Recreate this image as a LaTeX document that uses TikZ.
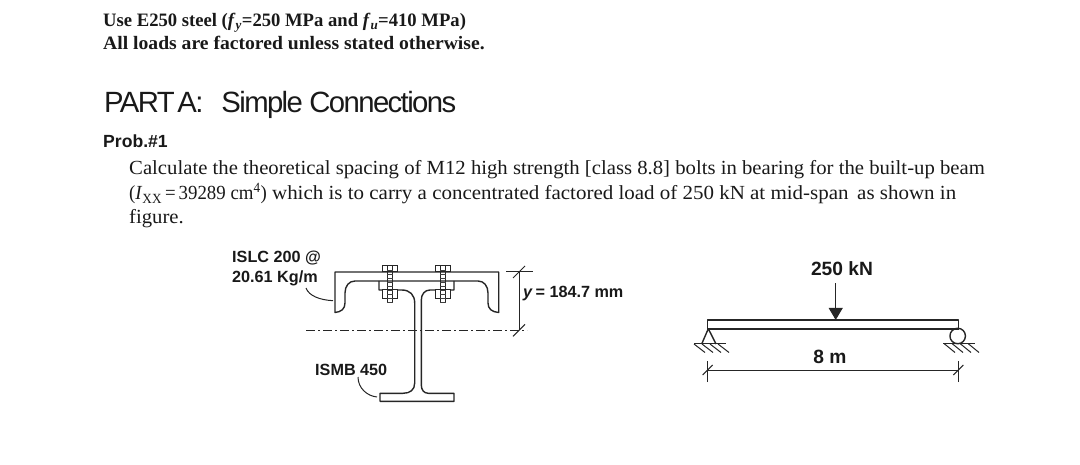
\documentclass[tikz,border=0pt]{standalone}
\usepackage{fontspec}
\usepackage{graphicx}
\setmainfont[FakeStretch=1.036]{Liberation Serif}
\setsansfont{Liberation Sans}
\newfontfamily\partfont[LetterSpace=-5.5]{Liberation Sans}
\usetikzlibrary{arrows.meta}
\tikzset{>/.tip={Triangle[scale=1.9]},
  txt/.style={inner sep=0pt, anchor=base west, text=black!90},
  lab/.style={inner sep=0pt, font=\sffamily\bfseries\fontsize{16.2}{18}\selectfont, text=black!90},
  biglab/.style={lab, font=\sffamily\bfseries\fontsize{19.2}{22}\selectfont},
  body/.style={txt, font=\fontsize{20}{24}\selectfont},
  head/.style={txt, font=\bfseries\fontsize{18.95}{22}\selectfont},
  steel/.style={line width=1.4pt, black!85, line join=round},
  thin/.style={line width=1pt, black!85}}

\begin{document}
\begin{tikzpicture}[x=1pt,y=-1pt]
\useasboundingbox (0,0) rectangle (1080,465);

\node[head] (use) at (103,27) {\scalebox{0.949}[1]{Use E250 steel (\textit{f}\textsubscript{\itshape y}=250 MPa and \textit{f}\textsubscript{\itshape u}=410 MPa)}};
\node[head] (all) at (103,50) {All loads are factored unless stated otherwise.};
\node[txt, font=\partfont\fontsize{29.3}{34}\selectfont] (part) at (104,113) {PART\hspace{-4pt} A:\hspace{18pt}Simple Connections};
\node[txt, font=\sffamily\bfseries\fontsize{17.6}{20}\selectfont] (prob) at (103,148) {Prob.\#1};
\node[body] (l1) at (129,175) {Calculate the theoretical spacing of M12 high strength [class 8.8] bolts in bearing for the built-up beam};
\node[body] (l2) at (129,200) {\scalebox{0.91}[1]{(\textit{I}\textsubscript{XX}\,=\,39289 cm\textsuperscript{4})} \scalebox{1.012}[1]{which is to carry a concentrated factored load of 250 kN at mid-span\, as shown in}};
\node[body] (l3) at (129,224) {figure.};

% section
\draw[steel] (335,272) -- (498.7,272) -- (498.7,312.5) .. controls (492,312) and (488,309) .. (488,303)
  -- (488,293) .. controls (488,286) and (484,281) .. (478,281) -- (355,281)
  .. controls (349,281) and (345,286) .. (345,293) -- (345,303) .. controls (345,309) and (341,312) .. (335,312.5) -- cycle;
\draw[steel] (379,281) -- (379,290) -- (401.7,290) .. controls (410,290) and (414.7,295) .. (414.7,303)
  -- (414.7,383) .. controls (414.7,390) and (410,393.3) .. (403,393.3) -- (380,393.3)
  -- (380,401.3) -- (454,401.3) -- (454,393.3) -- (428.3,393.3)
  .. controls (424,393.3) and (421.3,390) .. (421.3,385) -- (421.3,300)
  .. controls (421.3,294) and (425,290) .. (430,290) -- (454,290) -- (454,281);

% bolts
\foreach \bx in {390,443}
{
  \draw[thin, fill=white] (\bx-7.5,266) rectangle (\bx+7.5,272);
  \draw[thin, fill=white] (\bx-7.5,290) rectangle (\bx+7.5,298.3);
  \draw[thin] (\bx-2.8,266) -- (\bx-2.8,302.7) -- (\bx+2.8,302.7) -- (\bx+2.8,266);
  \foreach \ty in {270,274,...,302}
  {
    \draw[line width=0.5pt, black!75] (\bx-2.8,\ty) -- (\bx+2.8,\ty);
  }
}

% centre line and y dimension
\coordinate (axisL) at (306,330.3);
\coordinate (axisR) at (527,330.3);
\coordinate (dimT) at (519,272);
\coordinate (dimB) at (519,330.3);
\draw[thin, dash pattern=on 9pt off 3pt on 2pt off 3pt] (axisL) -- (axisR);
\draw[thin] (506,272) -- (533,272);
\draw[thin] (dimT) -- (dimB);
\foreach \i in {dimT,dimB}
{
  \draw[thin] ([shift={(-6,6)}]\i) -- ([shift={(6,-6)}]\i);
}
\node[lab, anchor=base west] (ydim) at (523,298) {\textit{y}\,= 184.7 mm};

% section labels
\node[lab, anchor=base west] (islc) at (232,263) {ISLC 200 @};
\node[lab, anchor=base west] (kgm) at (232,283) {20.61 Kg/m};
\node[lab, anchor=base west] (ismb) at (315,375) {ISMB 450};
\coordinate (islcA) at (306,288);
\coordinate (islcB) at (333,300.7);
\coordinate (ismbA) at (358,377);
\coordinate (ismbB) at (377,397);
\draw[thin] (islcA) .. controls (309,296) and (320,300) .. (islcB);
\draw[thin] (ismbA) .. controls (358,388) and (367,396) .. (ismbB);

% beam
\node[draw, steel, inner sep=0pt, minimum width=250.6pt, minimum height=8.3pt] (beam) at (833,324.2) {};
\draw[line width=1.8pt, black!85] (beam.south west) -- (beam.south east);
\node[biglab] (load) at (842,269) {250 kN};
\coordinate (loadT) at (835.7,283.3);
\coordinate (loadB) at (835.7,320);
\draw[->, line width=1.3pt, black!85] (loadT) -- (loadB);

% supports
\coordinate (pin) at (708.3,328.7);
\draw[steel] (701.7,344) -- (pin) -- (716,344);
\draw[thin] (694,344) -- (726,344);
\foreach \hx in {694,702,710,718}
{
  \draw[thin] (\hx,344) -- (\hx+11,352.5);
}
\node[draw, steel, circle, inner sep=0pt, minimum size=15.5pt] (roller) at (957.7,336) {};
\draw[thin] (943.3,343.5) -- (975,343.5);
\foreach \hx in {944,952,960,968}
{
  \draw[thin] (\hx,343.5) -- (\hx+11,352.5);
}

% span
\node[biglab] (span) at (830,357) {8 m};
\coordinate (spanL) at (707.7,370);
\coordinate (spanR) at (958.3,370);
\draw[thin] (spanL) -- (spanR);
\foreach \i in {spanL,spanR}
{
  \draw[thin] ([yshift=-12pt]\i) -- ([yshift=9pt]\i);
  \draw[thin] ([shift={(-5,5)}]\i) -- ([shift={(5,-5)}]\i);
}
\end{tikzpicture}
\end{document}
